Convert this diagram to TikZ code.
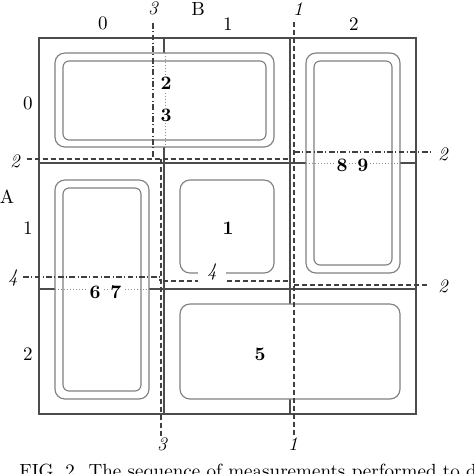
\documentclass[tikz,border=0pt]{standalone}
\usetikzlibrary{positioning}

\begin{document}
\begin{tikzpicture}[x=0.525pt, y=-0.525pt, node distance=11pt]
    \tikzstyle{frame}    = [draw=black!70, line width=0.8pt]
    \tikzstyle{outer}    = [draw=black!50, line width=0.6pt, rounded corners=5.2pt]
    \tikzstyle{inner}    = [draw=black!50, line width=0.6pt, rounded corners=3.2pt]
    \tikzstyle{cut}      = [draw=black!75, line width=0.6pt, dash pattern=on 2.6pt off 1.6pt]
    \tikzstyle{cutdot}   = [draw=black!75, line width=0.6pt, dash pattern=on 3pt off 1.3pt on 0.5pt off 1.3pt]
    \tikzstyle{path}     = [draw=black!45, line width=0.5pt, dash pattern=on 0.5pt off 1.1pt]
    \tikzstyle{index}    = [inner sep=1pt, font=\normalsize]
    \tikzstyle{cutlabel} = [inner sep=1pt, font=\itshape]
    \tikzstyle{order}    = [inner sep=1pt, fill=white, font=\bfseries]

    \useasboundingbox (0,0) rectangle (474,474);

    % Frame and cell boundaries
    \draw [frame] (39,38) rectangle (416,414);
    \draw [frame] (164,38) -- (164,53);
    \draw [frame] (164,147) -- (164,414);
    \draw [frame] (290,38) -- (290,304);
    \draw [frame] (290,399) -- (290,414);
    \draw [frame] (39,163) -- (306,163);
    \draw [frame] (400,163) -- (416,163);
    \draw [frame] (39,289) -- (55,289);
    \draw [frame] (149,289) -- (416,289);

    % Double walled boxes
    \draw [outer] (55,53) rectangle (274,147);
    \draw [inner] (63,61) rectangle (266,140);
    \draw [outer] (306,53) rectangle (400,273);
    \draw [inner] (314,61) rectangle (392,265);
    \draw [outer] (55,180) rectangle (149,399);
    \draw [inner] (63,188) rectangle (141,391);

    % Single walled boxes
    \draw [outer] (180,180) rectangle (274,273);
    \draw [outer] (180,304) rectangle (400,399);

    % Paths through the walls
    \draw [path] (165,53) -- (165,150);
    \draw [path] (306,163) -- (400,163);
    \draw [path] (55,289) -- (149,289);

    % Cuts
    \draw [cutdot] (153,23) -- (153,159);
    \draw [cut]    (161,159) -- (161,437);
    \draw [cut]    (294,22) -- (294,437);
    \draw [cut]    (27,159) -- (290,159);
    \draw [cutdot] (294,152) -- (432,152);
    \draw [cutdot] (23,277) -- (160,277) -- (160,281);
    \draw [cut]    (163,281) -- (290,281);
    \draw [cut]    (294,285) -- (430,285);

    % Indices of B
    \node [index] (b0) at (103,23) {0};
    \node [index] (bB) at (198,9)  {B};
    \node [index] (b1) at (228,24) {1};
    \node [index] (b2) at (354,24) {2};

    % Indices of A
    \node [index] (a0) at (28,103) {0};
    \node [index] (aA) at (7,197)  {A};
    \node [index] (a1) at (28,228) {1};
    \node [index] (a2) at (28,354) {2};

    % Cut labels
    \node [cutlabel] (cut3top) at (153,8)   {3};
    \node [cutlabel] (cut1top) at (298,9)   {1};
    \node [cutlabel] (cut2l)   at (15,161)  {2};
    \node [cutlabel] (cut4l)   at (13,278)  {4};
    \node [cutlabel] (cut2r)   at (443,154) {2};
    \node [cutlabel] (cut2rr)  at (443,286) {2};
    \node [cutlabel] (cut3bot) at (162,444) {3};
    \node [cutlabel] (cut1bot) at (293,444) {1};
    \node [cutlabel, fill=white, inner xsep=5pt] (cut4m) at (212,272) {4};

    % Sequence of measurements
    \node [order] (m1) at (228,228) {1};
    \node [order] (m2) at (166,83)  {2};
    \node [order] (m3) at (166,115) {3};
    \node [order] (m5) at (260,354) {5};
    \node [order] (m6) at (95,292)  {6};
    \node [order, right of=m6] (m7) {7};
    \node [order] (m8) at (342,165) {8};
    \node [order, right of=m8] (m9) {9};

    % Caption
    \node [anchor=base west, inner sep=0pt] (caption) at (19,477)
        {FIG. 2. The sequence of measurements performed to di};
\end{tikzpicture}
\end{document}
